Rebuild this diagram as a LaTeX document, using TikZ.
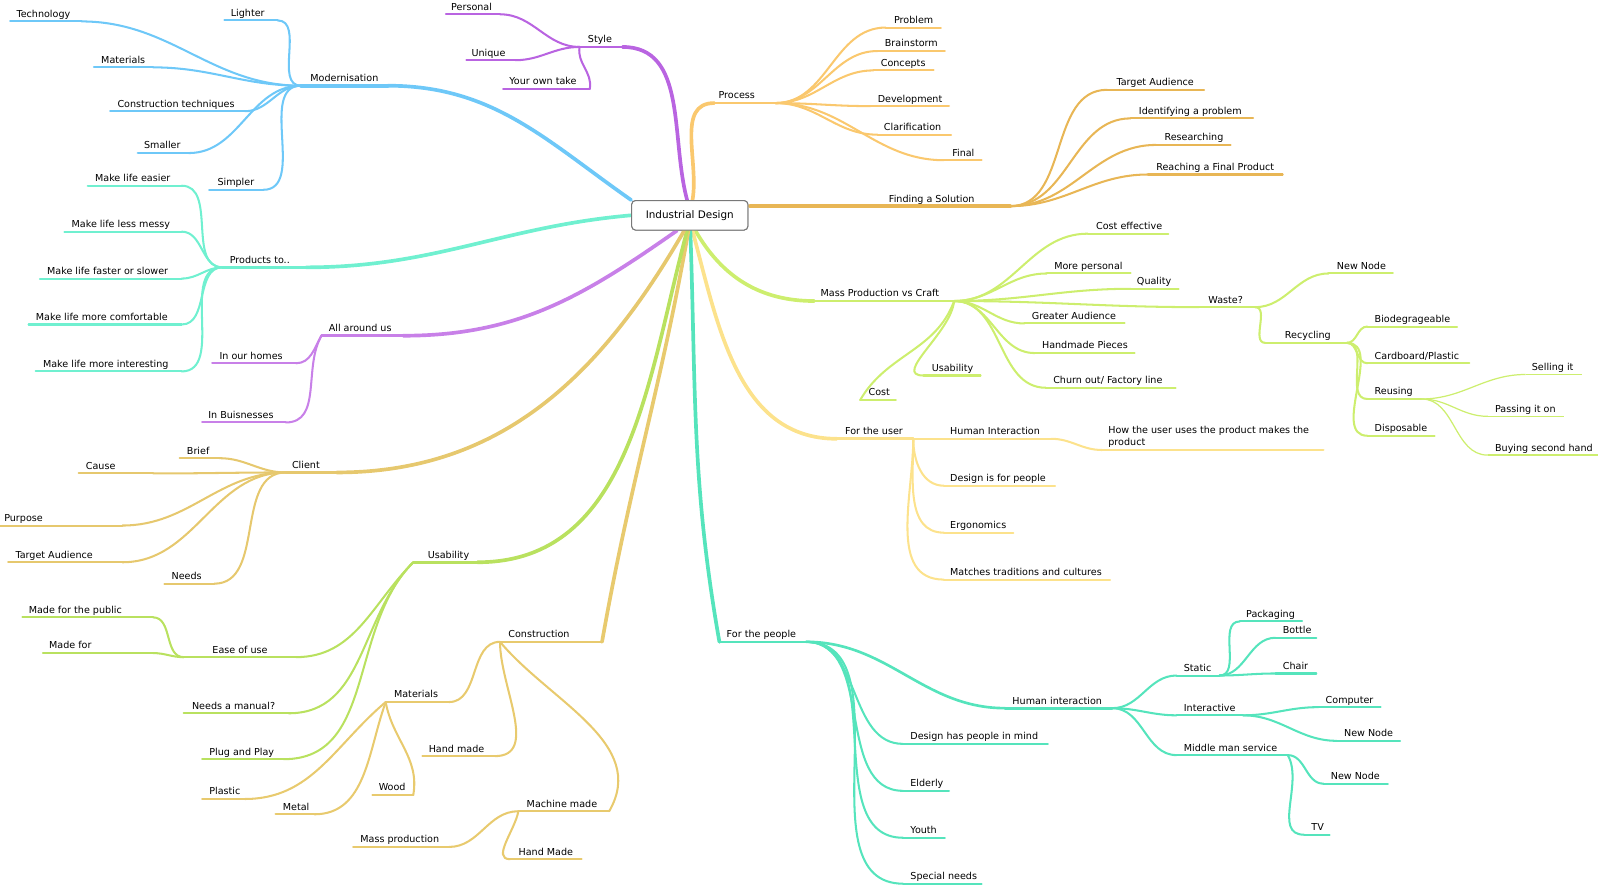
\documentclass[tikz,border=0pt]{standalone}
\usepackage{fontspec}
\setmainfont{DejaVu Sans}
\begin{document}
\begin{tikzpicture}[x=1pt,y=-1pt,
 lbl/.style={anchor=base west,inner sep=0pt,font=\fontsize{9.4}{11}\selectfont},
 W1/.style={line width=3.6pt,line cap=round},
 W2/.style={line width=2.6pt,line cap=round},
 W3/.style={line width=2pt,line cap=round},
 cMo/.style={draw={rgb,255:red,110;green,200;blue,248}},
 cSt/.style={draw={rgb,255:red,185;green,100;blue,225}},
 cPr/.style={draw={rgb,255:red,250;green,200;blue,110}},
 cFi/.style={draw={rgb,255:red,232;green,182;blue,85}},
 cMa/.style={draw={rgb,255:red,205;green,238;blue,110}},
 cUs/.style={draw={rgb,255:red,252;green,226;blue,140}},
 cPe/.style={draw={rgb,255:red,85;green,228;blue,188}},
 cCo/.style={draw={rgb,255:red,232;green,202;blue,110}},
 cUb/.style={draw={rgb,255:red,185;green,225;blue,95}},
 cCl/.style={draw={rgb,255:red,230;green,200;blue,110}},
 cAl/.style={draw={rgb,255:red,200;green,128;blue,232}},
 cPt/.style={draw={rgb,255:red,112;green,240;blue,208}},
 cbox/.style={draw={rgb,255:red,120;green,120;blue,120},rounded corners=4pt,fill=white,minimum width=114pt,minimum height=29pt,line width=1pt,font=\fontsize{10.2}{12}\selectfont}]
\useasboundingbox (0,0) rectangle (1568,868);
\newcommand\lf[7]{\coordinate (#1-l) at (#3,#5);\coordinate (#1-r) at (#4,#5);\draw[#2] (#1-l)--(#1-r);\node[lbl] (#1) at (#6,#5-4) {#7};}
\newcommand\cn[5]{\draw[#1] (#2) to[out=#4,in=#5] (#3);}
\node[cbox] (c) at (676,211) {\phantom{Industrial Design}};
% Modernisation
\lf{mod}{cMo,W1}{295}{380}{84}{304}{Modernisation}
\lf{tech}{cMo,W3}{10}{80}{21}{16}{Technology}
\lf{light}{cMo,W3}{220}{272}{20}{226}{Lighter}
\lf{mat}{cMo,W3}{92}{150}{66}{99}{Materials}
\lf{ctech}{cMo,W3}{108}{240}{109}{115}{Construction techniques}
\lf{small}{cMo,W3}{135}{185}{150}{141}{Smaller}
\lf{simp}{cMo,W3}{205}{258}{186}{213}{Simpler}
\foreach \n in {tech,light,mat,ctech,small,simp}{\cn{cMo,W3}{mod-l}{\n-r}{180}{0}}
% Style
\lf{sty}{cSt,W2}{568}{610}{46}{576}{Style}
\lf{pers}{cSt,W3}{437}{490}{14}{442}{Personal}
\lf{uniq}{cSt,W3}{457}{505}{59}{462}{Unique}
\lf{yot}{cSt,W3}{493}{578}{87}{499}{Your own take}
\cn{cSt,W3}{sty-l}{pers-r}{180}{0}
\cn{cSt,W3}{sty-l}{uniq-r}{180}{0}
\cn{cSt,W3}{sty-l}{yot-r}{-100}{80}
% Process
\lf{proc}{cPr,W2}{700}{760}{101}{704}{Process}
\lf{prob}{cPr,W3}{868}{922}{27}{876}{Problem}
\lf{brain}{cPr,W3}{860}{926}{50}{867}{Brainstorm}
\lf{conc}{cPr,W3}{856}{915}{69}{863}{Concepts}
\lf{dev}{cPr,W3}{853}{930}{104}{860}{Development}
\lf{clar}{cPr,W3}{860}{932}{132}{866}{Clarification}
\lf{fin}{cPr,W3}{925}{962}{157}{933}{Final}
\foreach \n in {prob,brain,conc,dev,clar,fin}{\cn{cPr,W3}{proc-r}{\n-l}{0}{180}}
% Finding a solution
\lf{find}{cFi,W1}{735}{990}{202}{871}{Finding a Solution}
\lf{ta}{cFi,W3}{1085}{1180}{88}{1094}{Target Audience}
\lf{iap}{cFi,W3}{1108}{1228}{116}{1116}{Identifying a problem}
\lf{res}{cFi,W3}{1133}{1206}{142}{1141}{Researching}
\lf{rfp}{cFi,W3}{1125}{1257}{171}{1133}{Reaching a Final Product}
\foreach \n in {ta,iap,res,rfp}{\cn{cFi,W3}{find-r}{\n-l}{0}{180}}
% Mass production
\lf{mass}{cMa,W2}{798}{935}{295}{804}{Mass Production vs Craft}
\lf{ce}{cMa,W3}{1066}{1145}{229}{1074}{Cost effective}
\lf{mp}{cMa,W3}{1026}{1108}{268}{1033}{More personal}
\lf{qual}{cMa,W3}{1108}{1155}{283}{1114}{Quality}
\lf{waste}{cMa,W3}{1175}{1230}{301}{1184}{Waste?}
\lf{ga}{cMa,W3}{1004}{1102}{317}{1011}{Greater Audience}
\lf{hp}{cMa,W3}{1014}{1112}{346}{1021}{Handmade Pieces}
\lf{churn}{cMa,W3}{1025}{1152}{380}{1032}{Churn out/ Factory line}
\lf{musa}{cMa,W3}{905}{961}{368}{913}{Usability}
\lf{cost}{cMa,W3}{843}{878}{392}{851}{Cost}
\foreach \n in {ce,mp,qual,waste,ga,hp,churn}{\cn{cMa,W3}{mass-r}{\n-l}{0}{180}}
\cn{cMa,W3}{mass-r}{musa-l}{-95}{180}
\cn{cMa,W3}{mass-r}{cost-l}{-110}{60}
\lf{nn1}{cMa,W3}{1302}{1365}{268}{1310}{New Node}
\lf{recy}{cMa,W3}{1240}{1320}{336}{1259}{Recycling}
\cn{cMa,W3}{waste-r}{nn1-l}{0}{180}
\cn{cMa,W3}{waste-r}{recy-l}{0}{180}
\lf{bio}{cMa,W3}{1340}{1428}{320}{1347}{Biodegrageable}
\lf{card}{cMa,W3}{1340}{1440}{356}{1347}{Cardboard/Plastic}
\lf{reus}{cMa,W3}{1340}{1393}{391}{1347}{Reusing}
\lf{disp}{cMa,W3}{1340}{1406}{427}{1347}{Disposable}
\foreach \n in {bio,card,reus,disp}{\cn{cMa,W3}{recy-r}{\n-l}{0}{180}}
\lf{sell}{cMa,line width=1.2pt}{1495}{1550}{367}{1501}{Selling it}
\lf{pass}{cMa,line width=1.2pt}{1458}{1533}{408}{1465}{Passing it on}
\lf{buy}{cMa,line width=1.2pt}{1458}{1566}{446}{1465}{Buying second hand}
\foreach \n in {sell,pass,buy}{\draw[cMa,line width=1.2pt] (reus-r) to[out=0,in=180] (\n-l);}
% For the user
\lf{user}{cUs,W2}{820}{895}{430}{828}{For the user}
\lf{hi}{cUs,W3}{895}{1030}{430}{931}{Human Interaction}
\coordinate (how-l) at (1080,441);\coordinate (how-r) at (1297,441);
\draw[cUs,W3] (how-l)--(how-r);
\node[lbl,anchor=south west,align=left,font=\fontsize{9.4}{12.5}\selectfont] (how) at (1086,439) {How the user uses the product makes the\\product};
\cn{cUs,W3}{hi-r}{how-l}{0}{180}
\lf{dfp}{cUs,W3}{925}{1034}{476}{931}{Design is for people}
\lf{ergo}{cUs,W3}{925}{993}{522}{931}{Ergonomics}
\lf{mtc}{cUs,W3}{925}{1088}{568}{931}{Matches traditions and cultures}
\foreach \n in {dfp,ergo,mtc}{\cn{cUs,W3}{user-r}{\n-l}{-90}{180}}
% For the people
\lf{peop}{cPe,W2}{705}{790}{629}{712}{For the people}
\lf{hum}{cPe,W2}{985}{1090}{694}{992}{Human interaction}
\lf{dhp}{cPe,W3}{885}{1027}{729}{892}{Design has people in mind}
\lf{eld}{cPe,W3}{885}{930}{775}{892}{Elderly}
\lf{you}{cPe,W3}{885}{926}{821}{892}{Youth}
\lf{spn}{cPe,W3}{885}{962}{866}{892}{Special needs}
\cn{cPe,W2}{peop-r}{hum-l}{0}{180}
\foreach \n in {dhp,eld,you,spn}{\cn{cPe,W3}{peop-r}{\n-l}{0}{180}}
\lf{stat}{cPe,W3}{1153}{1195}{662}{1160}{Static}
\lf{inter}{cPe,W3}{1153}{1218}{701}{1160}{Interactive}
\lf{mid}{cPe,W3}{1153}{1262}{740}{1160}{Middle man service}
\foreach \n in {stat,inter,mid}{\cn{cPe,W3}{hum-r}{\n-l}{0}{180}}
\lf{pack}{cPe,W3}{1215}{1276}{609}{1221}{Packaging}
\lf{bott}{cPe,W3}{1250}{1290}{625}{1257}{Bottle}
\lf{chair}{cPe,W3}{1250}{1290}{660}{1257}{Chair}
\foreach \n in {pack,bott,chair}{\cn{cPe,W3}{stat-r}{\n-l}{0}{180}}
\lf{comp}{cPe,W3}{1292}{1353}{693}{1299}{Computer}
\lf{nn2}{cPe,W3}{1310}{1372}{726}{1317}{New Node}
\foreach \n in {comp,nn2}{\cn{cPe,W3}{inter-r}{\n-l}{0}{180}}
\lf{nn3}{cPe,W3}{1297}{1360}{768}{1304}{New Node}
\lf{tv}{cPe,W3}{1278}{1303}{818}{1285}{TV}
\cn{cPe,W3}{mid-r}{nn3-l}{0}{180}
\cn{cPe,W3}{mid-r}{tv-l}{-60}{180}
% Construction
\lf{cons}{cCo,W2}{490}{590}{629}{498}{Construction}
\lf{cmat}{cCo,W3}{378}{440}{688}{386}{Materials}
\lf{hmade}{cCo,W3}{414}{485}{741}{420}{Hand made}
\lf{mmade}{cCo,W3}{508}{597}{795}{516}{Machine made}
\cn{cCo,W3}{cmat-r}{cons-l}{0}{180}
\cn{cCo,W3}{cons-l}{hmade-r}{-90}{0}
\cn{cCo,W3}{cons-l}{mmade-r}{-50}{60}
\lf{plas}{cCo,W3}{198}{240}{783}{205}{Plastic}
\lf{metal}{cCo,W3}{270}{308}{798}{277}{Metal}
\lf{wood}{cCo,W3}{365}{405}{779}{371}{Wood}
\cn{cCo,W3}{cmat-l}{plas-r}{-140}{0}
\cn{cCo,W3}{cmat-l}{metal-r}{-110}{0}
\cn{cCo,W3}{cmat-l}{wood-r}{-80}{80}
\lf{mprod}{cCo,W3}{346}{440}{830}{353}{Mass production}
\lf{hm2}{cCo,W3}{500}{570}{842}{508}{Hand Made}
\cn{cCo,W3}{mmade-l}{mprod-r}{180}{0}
\cn{cCo,W3}{mmade-l}{hm2-l}{-100}{180}
% Usability
\lf{usab}{cUb,W2}{405}{468}{551}{419}{Usability}
\lf{ease}{cUb,W3}{180}{290}{644}{208}{Ease of use}
\lf{manual}{cUb,W3}{180}{283}{699}{188}{Needs a manual?}
\lf{plug}{cUb,W3}{198}{278}{744}{205}{Plug and Play}
\foreach \n in {ease,manual,plug}{\cn{cUb,W3}{usab-l}{\n-r}{-135}{0}}
\lf{mfp}{cUb,W3}{22}{150}{605}{28}{Made for the public}
\lf{mf}{cUb,W3}{42}{150}{640}{48}{Made for}
\foreach \n in {mfp,mf}{\cn{cUb,W3}{ease-l}{\n-r}{180}{0}}
% Client
\lf{cli}{cCl,W2}{280}{330}{463}{286}{Client}
\lf{brief}{cCl,W3}{176}{215}{449}{183}{Brief}
\lf{cause}{cCl,W3}{77}{150}{464}{84}{Cause}
\lf{purp}{cCl,W3}{0}{120}{515}{4}{Purpose}
\lf{cta}{cCl,W3}{8}{120}{551}{15}{Target Audience}
\lf{needs}{cCl,W3}{161}{210}{572}{168}{Needs}
\foreach \n in {brief,cause,purp,cta,needs}{\cn{cCl,W3}{cli-l}{\n-r}{180}{0}}
% All around us
\lf{all}{cAl,W2}{315}{395}{329}{322}{All around us}
\lf{home}{cAl,W3}{208}{290}{356}{215}{In our homes}
\lf{buis}{cAl,W3}{198}{280}{414}{204}{In Buisnesses}
\foreach \n in {home,buis}{\cn{cAl,W3}{all-l}{\n-r}{-120}{0}}
% Products to..
\lf{prod}{cPt,W2}{218}{300}{262}{225}{Products to..}
\lf{mle}{cPt,W3}{86}{178}{182}{93}{Make life easier}
\lf{mlm}{cPt,W3}{63}{178}{227}{70}{Make life less messy}
\lf{mlf}{cPt,W3}{39}{178}{273}{46}{Make life faster or slower}
\lf{mlc}{cPt,W3}{28}{178}{318}{35}{Make life more comfortable}
\lf{mli}{cPt,W3}{35}{178}{364}{42}{Make life more interesting}
\foreach \n in {mle,mlm,mlf,mlc,mli}{\cn{cPt,W3}{prod-l}{\n-r}{180}{0}}
% main branches
\cn{cMo,W1}{c.north west}{mod-r}{145}{0}
\cn{cSt,W1}{c.100}{sty-r}{105}{0}
\cn{cPr,W1}{c.80}{proc-l}{80}{180}
\cn{cMa,W1}{c.-70}{mass-l}{-60}{180}
\cn{cUs,W1}{c.-80}{user-l}{-75}{180}
\cn{cPe,W1}{c.-88}{peop-l}{-88}{100}
\cn{cCo,W1}{c.-95}{cons-r}{-100}{80}
\cn{cUb,W1}{c.-100}{usab-r}{-105}{0}
\cn{cCl,W1}{c.-110}{cli-r}{-120}{0}
\cn{cAl,W1}{c.-130}{all-r}{-145}{0}
\cn{cPt,W1}{c.west}{prod-r}{185}{0}
\node[cbox] (ctop) at (c) {Industrial Design};
\end{tikzpicture}
\end{document}
